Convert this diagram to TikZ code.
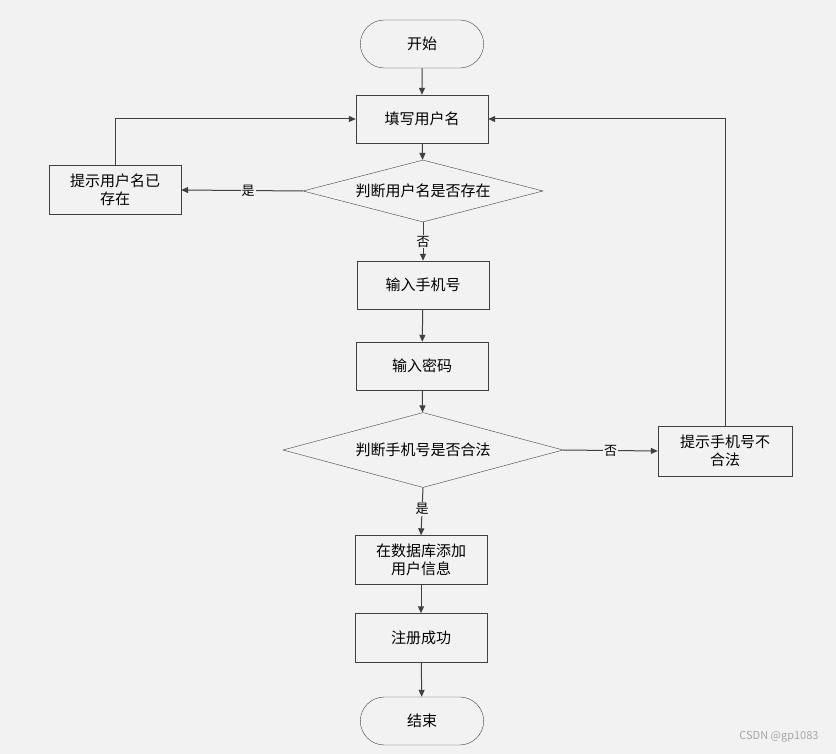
\documentclass[tikz,border=0pt]{standalone}
\usepackage{fontspec}
\setmainfont{Noto Sans CJK SC}
\usetikzlibrary{shapes.geometric,arrows.meta,positioning}
\definecolor{bg}{HTML}{F2F2F2}
\definecolor{ln}{HTML}{404040}
\begin{document}
\begin{tikzpicture}[x=1pt,y=-1pt,
  every node/.style={font=\fontsize{15}{18}\selectfont},
  box/.style={draw=ln,fill=bg,minimum width=132pt,minimum height=48pt,align=center,inner sep=2pt},
  term/.style={draw=ln,fill=bg,rounded rectangle,minimum width=130pt,minimum height=48pt},
  dia/.style={draw=ln,fill=bg,diamond,aspect=3.9,inner sep=0pt},
  arr/.style={draw=ln,line width=1pt,-{Triangle[length=7pt,width=6pt]}},
  lab/.style={fill=bg,inner sep=1pt,font=\fontsize{13}{15}\selectfont}]
\useasboundingbox[fill=bg] (0,0) rectangle (836,754);
\usetikzlibrary{shapes.misc}
\node[term] (s) at (422,44) {开始};
\node[box,minimum height=48pt] (a) at (422,119) {填写用户名};
\node[dia,minimum width=240pt,minimum height=62pt] (d1) at (423,191) {判断用户名是否存在};
\node[box,text width=125pt,minimum width=132pt,minimum height=49pt] (e1) at (115,190) {提示用户名已\\存在};
\node[box] (b) at (423,285) {输入手机号};
\node[box] (c) at (422,366) {输入密码};
\node[dia,minimum width=280pt,minimum height=75pt] (d2) at (423,450) {判断手机号是否合法};
\node[box,minimum width=134pt,minimum height=50pt] (e2) at (725,451) {提示手机号不\\合法};
\node[box,minimum height=49pt] (f) at (421,560) {在数据库添加\\用户信息};
\node[box,minimum height=49pt] (g) at (421,638) {注册成功};
\node[term] (h) at (422,721) {结束};
\node[text=gray!70,font=\fontsize{11}{13}\selectfont] (w) at (779,737) {CSDN @gp1083};
\path[arr] (s) -- (a);
\path[arr] (a) -- (d1);
\path[arr] (d1.west) -- node[lab,pos=0.45]{是} (e1.east);
\path[arr] (e1.north) |- (a.west);
\path[arr] (d1.south) -- node[lab,pos=0.5]{否} (b.north);
\path[arr] (b) -- (c);
\path[arr] (c) -- (d2);
\path[arr] (d2.east) -- node[lab,pos=0.5]{否} (e2.west);
\path[arr] (e2.north) |- (a.east);
\path[arr] (d2.south) -- node[lab,pos=0.45]{是} (f.north);
\path[arr] (f) -- (g);
\path[arr] (g) -- (h);
\end{tikzpicture}
\end{document}
